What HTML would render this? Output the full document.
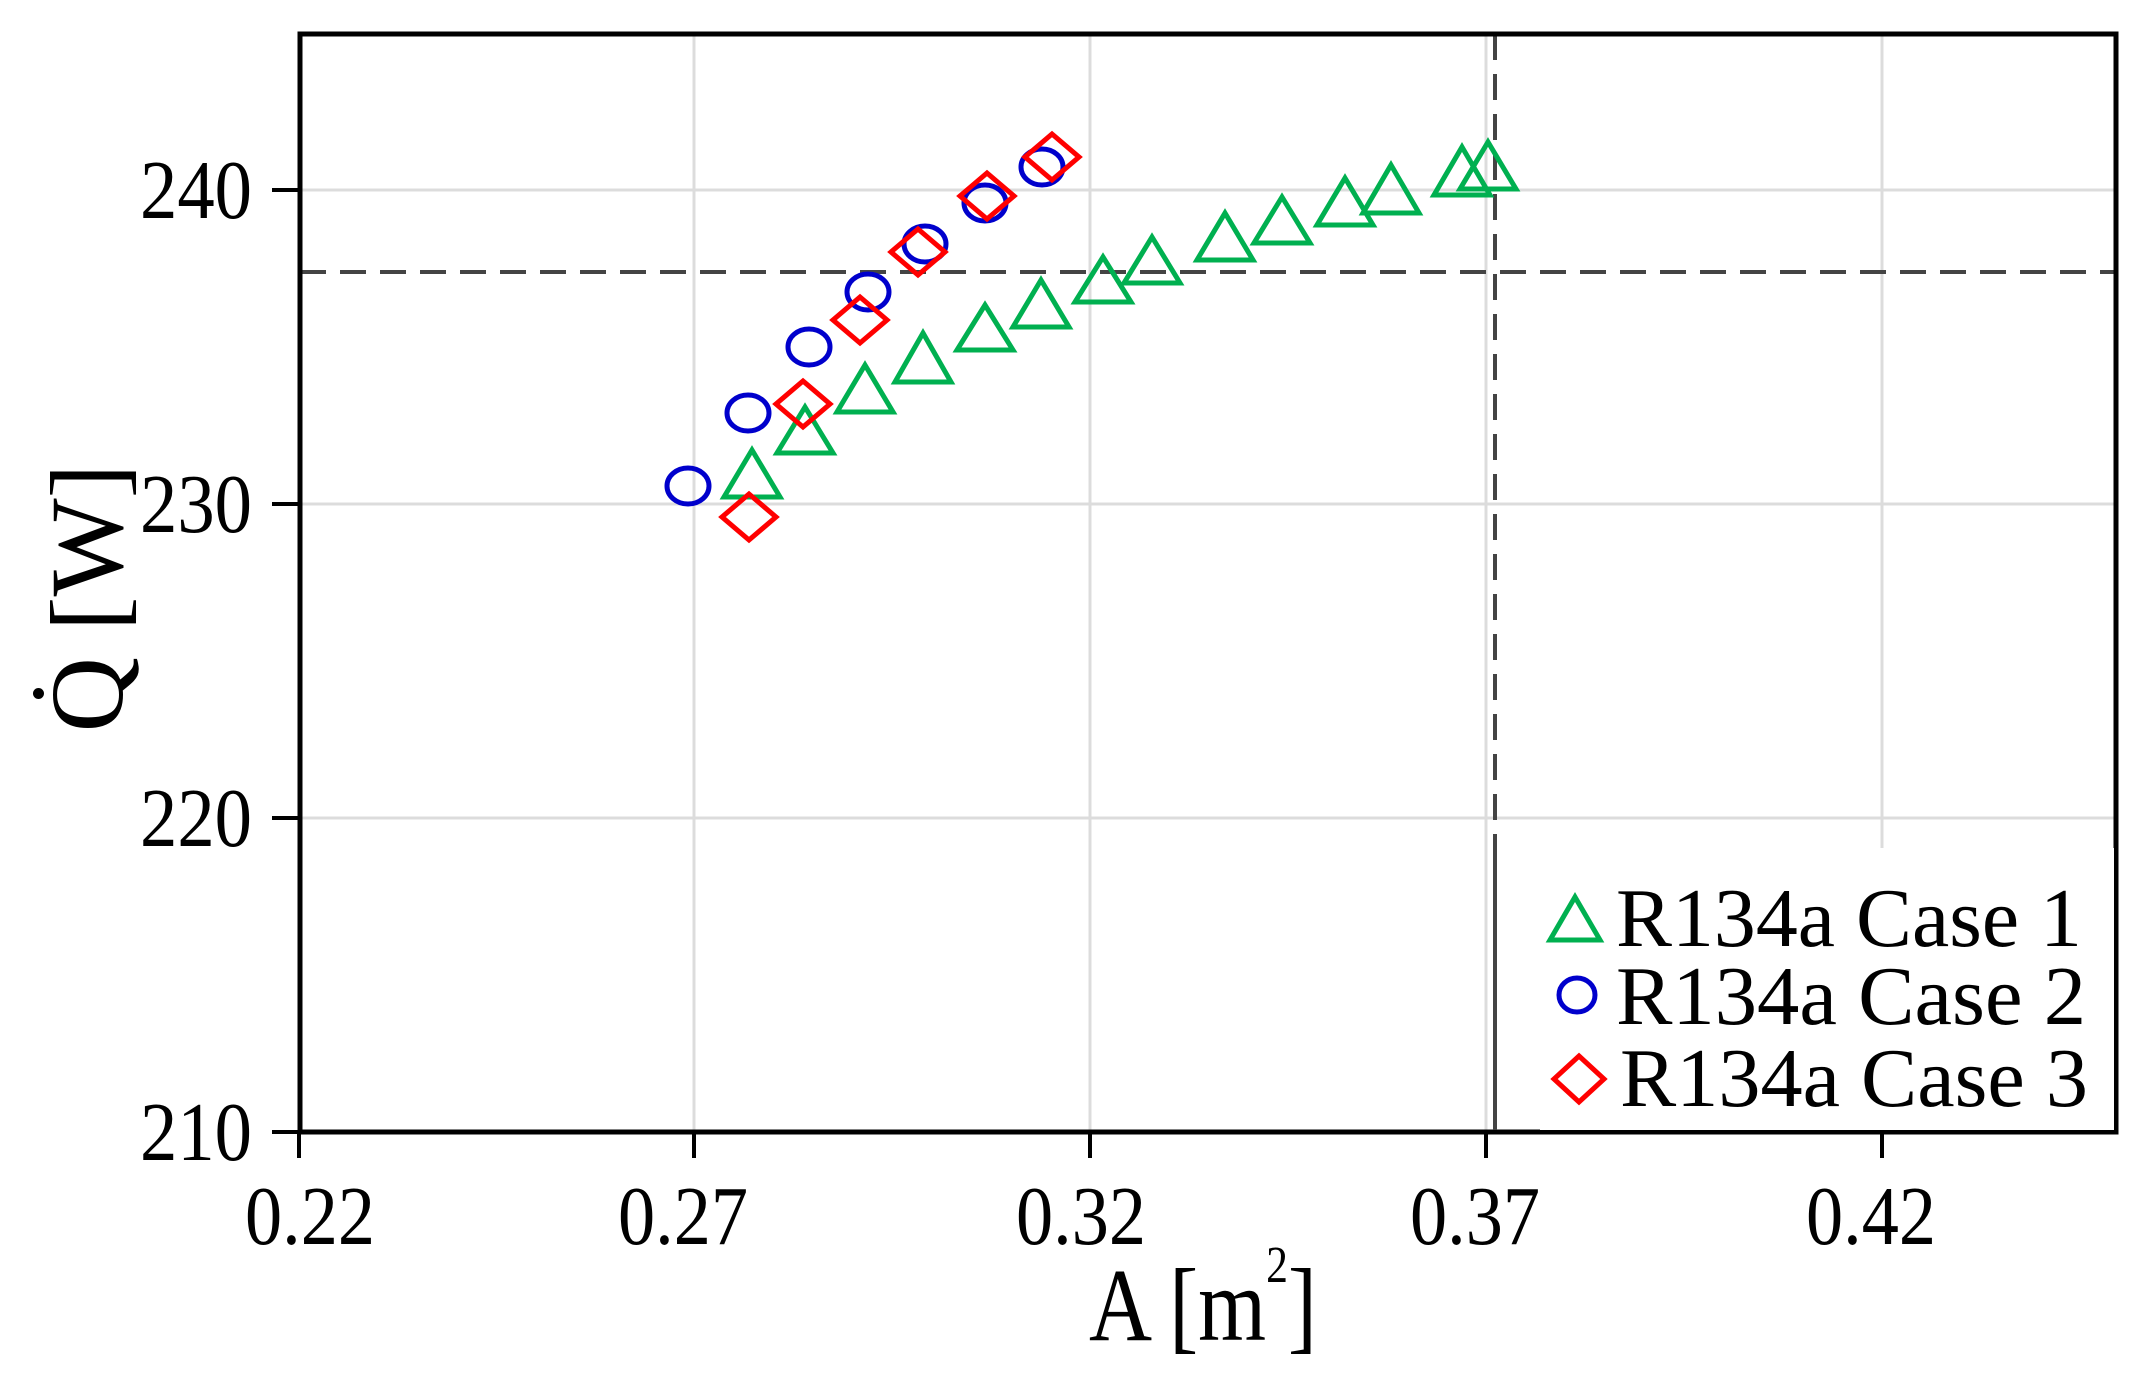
<!DOCTYPE html>
<html><head><meta charset="utf-8"><style>html,body{margin:0;padding:0;background:#fff}svg{display:block}</style></head>
<body>
<svg width="2150" height="1382" viewBox="0 0 2150 1382" xmlns="http://www.w3.org/2000/svg" font-family="Liberation Serif, serif">
<rect width="2150" height="1382" fill="#fff"/>
<g stroke="#dcdcdc" stroke-width="3">
<line x1="694" y1="34" x2="694" y2="1132"/>
<line x1="1090" y1="34" x2="1090" y2="1132"/>
<line x1="1486" y1="34" x2="1486" y2="1132"/>
<line x1="1882" y1="34" x2="1882" y2="848"/>
<line x1="300" y1="190" x2="2116" y2="190"/>
<line x1="300" y1="504" x2="2116" y2="504"/>
<line x1="300" y1="818" x2="2116" y2="818"/>
</g>
<line x1="300" y1="272" x2="2116" y2="272" stroke="#444" stroke-width="4" stroke-dasharray="26,14"/>
<line x1="1495" y1="34" x2="1495" y2="1132" stroke="#444" stroke-width="4" stroke-dasharray="26,14"/>
<rect x="300" y="34" width="1816" height="1098" fill="none" stroke="#000" stroke-width="5"/>
<g stroke="#000" stroke-width="4">
<line x1="299" y1="1132" x2="299" y2="1158"/>
<line x1="694" y1="1132" x2="694" y2="1158"/>
<line x1="1090" y1="1132" x2="1090" y2="1158"/>
<line x1="1486" y1="1132" x2="1486" y2="1158"/>
<line x1="1882" y1="1132" x2="1882" y2="1158"/>
<line x1="272" y1="190" x2="300" y2="190"/>
<line x1="272" y1="504" x2="300" y2="504"/>
<line x1="272" y1="818" x2="300" y2="818"/>
<line x1="272" y1="1132" x2="300" y2="1132"/>
</g>
<g font-size="84" fill="#000" text-anchor="end">
<text x="252" y="218" textLength="112" lengthAdjust="spacingAndGlyphs">240</text>
<text x="252" y="532" textLength="112" lengthAdjust="spacingAndGlyphs">230</text>
<text x="252" y="846" textLength="112" lengthAdjust="spacingAndGlyphs">220</text>
<text x="252" y="1160" textLength="112" lengthAdjust="spacingAndGlyphs">210</text>
</g>
<g font-size="84" fill="#000">
<text x="245" y="1244" textLength="130" lengthAdjust="spacingAndGlyphs">0.22</text>
<text x="618" y="1244" textLength="130" lengthAdjust="spacingAndGlyphs">0.27</text>
<text x="1016" y="1244" textLength="130" lengthAdjust="spacingAndGlyphs">0.32</text>
<text x="1410" y="1244" textLength="130" lengthAdjust="spacingAndGlyphs">0.37</text>
<text x="1806" y="1244" textLength="130" lengthAdjust="spacingAndGlyphs">0.42</text>
</g>
<text x="1089" y="1340" font-size="104" textLength="228" lengthAdjust="spacingAndGlyphs">A [m<tspan font-size="52" dy="-58">2</tspan><tspan dy="58">]</tspan></text>
<text transform="translate(122,598) rotate(-90)" font-size="104" text-anchor="middle">Q̇ [W]</text>
<rect x="1540" y="848" width="574" height="282" fill="#fff"/>
<line x1="1495" y1="848" x2="1495" y2="1130" stroke="#444" stroke-width="4" stroke-dasharray="26,14"/>
<g fill="none" stroke="#00b050" stroke-width="5">
<polygon points="752,450 780,497 724,497"/>
<polygon points="805,407 833,453 777,453"/>
<polygon points="865,365 893,412 837,412"/>
<polygon points="923,333 951,382 895,382"/>
<polygon points="985,305 1013,350 957,350"/>
<polygon points="1041,280 1069,327 1013,327"/>
<polygon points="1103,257 1131,302 1075,302"/>
<polygon points="1152,237 1180,283 1124,283"/>
<polygon points="1225,213 1253,260 1197,260"/>
<polygon points="1282,197 1310,243 1254,243"/>
<polygon points="1345,178 1373,225 1317,225"/>
<polygon points="1391,165 1419,213 1363,213"/>
<polygon points="1462,147 1490,195 1434,195"/>
<polygon points="1488,142 1516,189 1460,189"/>
<polygon points="1575,897 1600,940 1550,940"/>
</g>
<g fill="none" stroke="#0000cc" stroke-width="5">
<ellipse cx="688" cy="486" rx="21" ry="18"/>
<ellipse cx="748" cy="413" rx="21" ry="18"/>
<ellipse cx="809" cy="347" rx="21" ry="18"/>
<ellipse cx="868" cy="292" rx="21" ry="18"/>
<ellipse cx="925" cy="244" rx="21" ry="18"/>
<ellipse cx="985" cy="203" rx="21" ry="18"/>
<ellipse cx="1042" cy="167" rx="21" ry="18"/>
<ellipse cx="1577" cy="995" rx="18" ry="17"/>
</g>
<g fill="none" stroke="#ff0000" stroke-width="5">
<polygon points="749,494 776,517 749,540 722,517"/>
<polygon points="803,381 830,404 803,427 776,404"/>
<polygon points="860,297 887,320 860,343 833,320"/>
<polygon points="918,229 945,252 918,275 891,252"/>
<polygon points="987,173 1014,196 987,219 960,196"/>
<polygon points="1052,134 1079,157 1052,180 1025,157"/>
<polygon points="1579,1056 1604,1079 1579,1102 1554,1079"/>
</g>
<g font-size="84" fill="#000">
<text x="1616" y="946" textLength="466" lengthAdjust="spacingAndGlyphs">R134a Case 1</text>
<text x="1616" y="1024" textLength="470" lengthAdjust="spacingAndGlyphs">R134a Case 2</text>
<text x="1620" y="1106" textLength="468" lengthAdjust="spacingAndGlyphs">R134a Case 3</text>
</g>
</svg>
</body></html>
